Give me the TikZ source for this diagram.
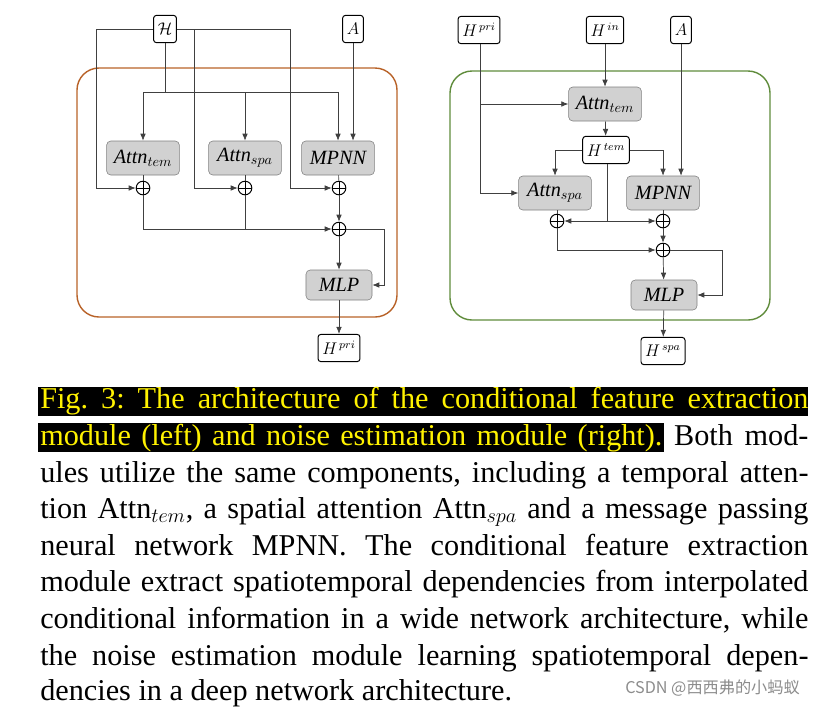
\documentclass[tikz,border=0pt]{standalone}
\usepackage{fontspec}
\setmainfont{Liberation Serif}
\newfontfamily\cjk{Noto Sans CJK SC}
\usetikzlibrary{arrows.meta,calc}
\begin{document}
\frenchspacing
\begin{tikzpicture}[x=0.025cm,y=-0.025cm,
  ln/.style={draw=black!75,line width=0.5pt},
  ar/.style={ln,-{Latex[length=5pt,width=4pt]}},
  inp/.style={draw,rounded corners=2pt,fill=white,line width=0.7pt,minimum height=0.68cm,inner xsep=3pt,font=\large},
  blk/.style={draw=black!50,fill=black!18,rounded corners=3pt,minimum width=1.82cm,minimum height=0.85cm,font=\Large},
  mlp/.style={blk,minimum width=1.65cm,minimum height=0.75cm},
  op/.style={circle,draw,line width=0.7pt,inner sep=0pt,minimum size=0.34cm,fill=white,
    path picture={\draw[line width=0.7pt] (path picture bounding box.north) -- (path picture bounding box.south)
      (path picture bounding box.west) -- (path picture bounding box.east);}},
  capline/.style={anchor=base west,inner sep=0pt,font=\fontsize{21.5}{25}\selectfont}]
\useasboundingbox (0,0) rectangle (813,706);

% left module
\draw[color={rgb,255:red,184;green,98;blue,40},line width=1pt,rounded corners=0.55cm] (77,68) rectangle (397,317);
\node[inp] (H) at (165,29) {$\mathcal{H}$};
\node[inp] (A) at (353,29) {$A$};
\node[blk] (at) at (143,158) {$\mathit{Attn}_{tem}$};
\node[blk] (as) at (245,158) {$\mathit{Attn}_{spa}$};
\node[blk] (mp) at (338,158) {$\mathit{MPNN}$};
\node[op] (o1) at (143,188) {};
\node[op] (o2) at (245,188) {};
\node[op] (o3) at (339,188) {};
\node[op] (o4) at (339,229) {};
\node[mlp] (ml) at (339,285) {$\mathit{MLP}$};
\node[inp] (Hp) at (339,348) {$H^{\,pri}$};
\coordinate (l1) at (96,29);
\coordinate (r1) at (194,29);
\coordinate (r2) at (290,29);
\coordinate (hb) at (165,92);
\coordinate (c4) at (384,229);
\draw[ar] (H.west) -- (l1) |- (o1.west);
\draw[ar] (H.east) -- (r1) |- (o2.west);
\draw[ar] (r1) -- (r2) |- (o3.west);
\draw[ln] (H.south) -- (hb);
\draw[ar] (hb) -| (at.north);
\draw[ar] (hb) -| (as.north);
\draw[ar] (hb) -| (mp.north);
\draw[ar] (A.south) -- (A.south |- mp.north);
\draw[ln] (at) -- (o1);
\draw[ln] (as) -- (o2);
\draw[ln] (mp) -- (o3);
\draw[ar] (o1) |- (o4);
\draw[ln] (o2) -- (o2 |- o4);
\draw[ar] (o3) -- (o4);
\draw[ar] (o4) -- (ml);
\draw[ar] (o4.east) -- (c4) |- (ml.east);
\draw[ar] (ml) -- (Hp);

% right module
\draw[color={rgb,255:red,96;green,140;blue,60},line width=1pt,rounded corners=0.55cm] (450,71) rectangle (770,320);
\node[inp] (Pr) at (479,30) {$H^{\,pri}$};
\node[inp] (Hi) at (605,30) {$H^{\,in}$};
\node[inp] (B) at (681,30) {$A$};
\node[blk] (bt) at (605,104) {$\mathit{Attn}_{tem}$};
\node[inp] (Ht) at (606,150) {$H^{\,tem}$};
\node[blk] (bs) at (555,193) {$\mathit{Attn}_{spa}$};
\node[blk] (bm) at (663,193) {$\mathit{MPNN}$};
\node[op] (p1) at (557,221) {};
\node[op] (p2) at (663,221) {};
\node[op] (p3) at (663,250) {};
\node[mlp] (bl) at (664,295) {$\mathit{MLP}$};
\node[inp] (Hs) at (663,351) {$H^{\,spa}$};
\coordinate (pt) at (480,104);
\coordinate (hc) at (607,221);
\coordinate (c5) at (722,250);
\draw[ar] (Pr.south -| pt) |- (bs.west);
\draw[ar] (pt) -- (bt.west);
\draw[ar] (Hi) -- (bt);
\draw[ar] (bt) -- (Ht);
\draw[ar] (Ht.west) -| (bs.north);
\draw[ar] (Ht.east) -| (bm.north);
\draw[ar] (B.south) -- (B.south |- bm.north);
\draw[ln] (Ht.south -| hc) -- (hc);
\draw[ar] (hc) -- (p1);
\draw[ar] (hc) -- (p2);
\draw[ln] (bs.south -| p1) -- (p1);
\draw[ln] (bm) -- (p2);
\draw[ar] (p1) |- (p3);
\draw[ar] (p2) -- (p3);
\draw[ar] (p3) -- (bl);
\draw[ar] (p3.east) -- (c5) |- (bl.east);
\draw[ar] (bl) -- (Hs);

% caption
\fill[black] (38,387) rectangle (808,416);
\node[capline,text=yellow] (t1) at (40,408) {\makebox[19.2cm][s]{Fig. 3: The architecture of the conditional feature extraction}};
\fill[black] (38,423) rectangle (664,452);
\node[capline] (t2) at (40,445) {\makebox[19.2cm][s]{\textcolor{yellow}{\makebox[15.55cm][s]{module (left) and noise estimation module (right).}}\ Both mod-}};
\node[capline] (t3) at (40,482) {\makebox[19.2cm][s]{ules utilize the same components, including a temporal atten-}};
\node[capline] (t4) at (40,518) {\makebox[19.2cm][s]{tion Attn$_{tem}$, a spatial attention Attn$_{spa}$ and a message passing}};
\node[capline] (t5) at (40,555) {\makebox[19.2cm][s]{neural network MPNN. The conditional feature extraction}};
\node[capline] (t6) at (40,591) {\makebox[19.2cm][s]{module extract spatiotemporal dependencies from interpolated}};
\node[capline] (t7) at (40,628) {\makebox[19.2cm][s]{conditional information in a wide network architecture, while}};
\node[capline] (t8) at (40,665) {\makebox[19.2cm][s]{the noise estimation module learning spatiotemporal depen-}};
\node[capline] (t9) at (40,700) {dencies in a deep network architecture.};
\node[anchor=east,inner sep=0pt,text=black!45,font=\cjk\fontsize{11.5}{13}\selectfont] (wm) at (800,688) {CSDN @西西弗的小蚂蚁};
\end{tikzpicture}
\end{document}
